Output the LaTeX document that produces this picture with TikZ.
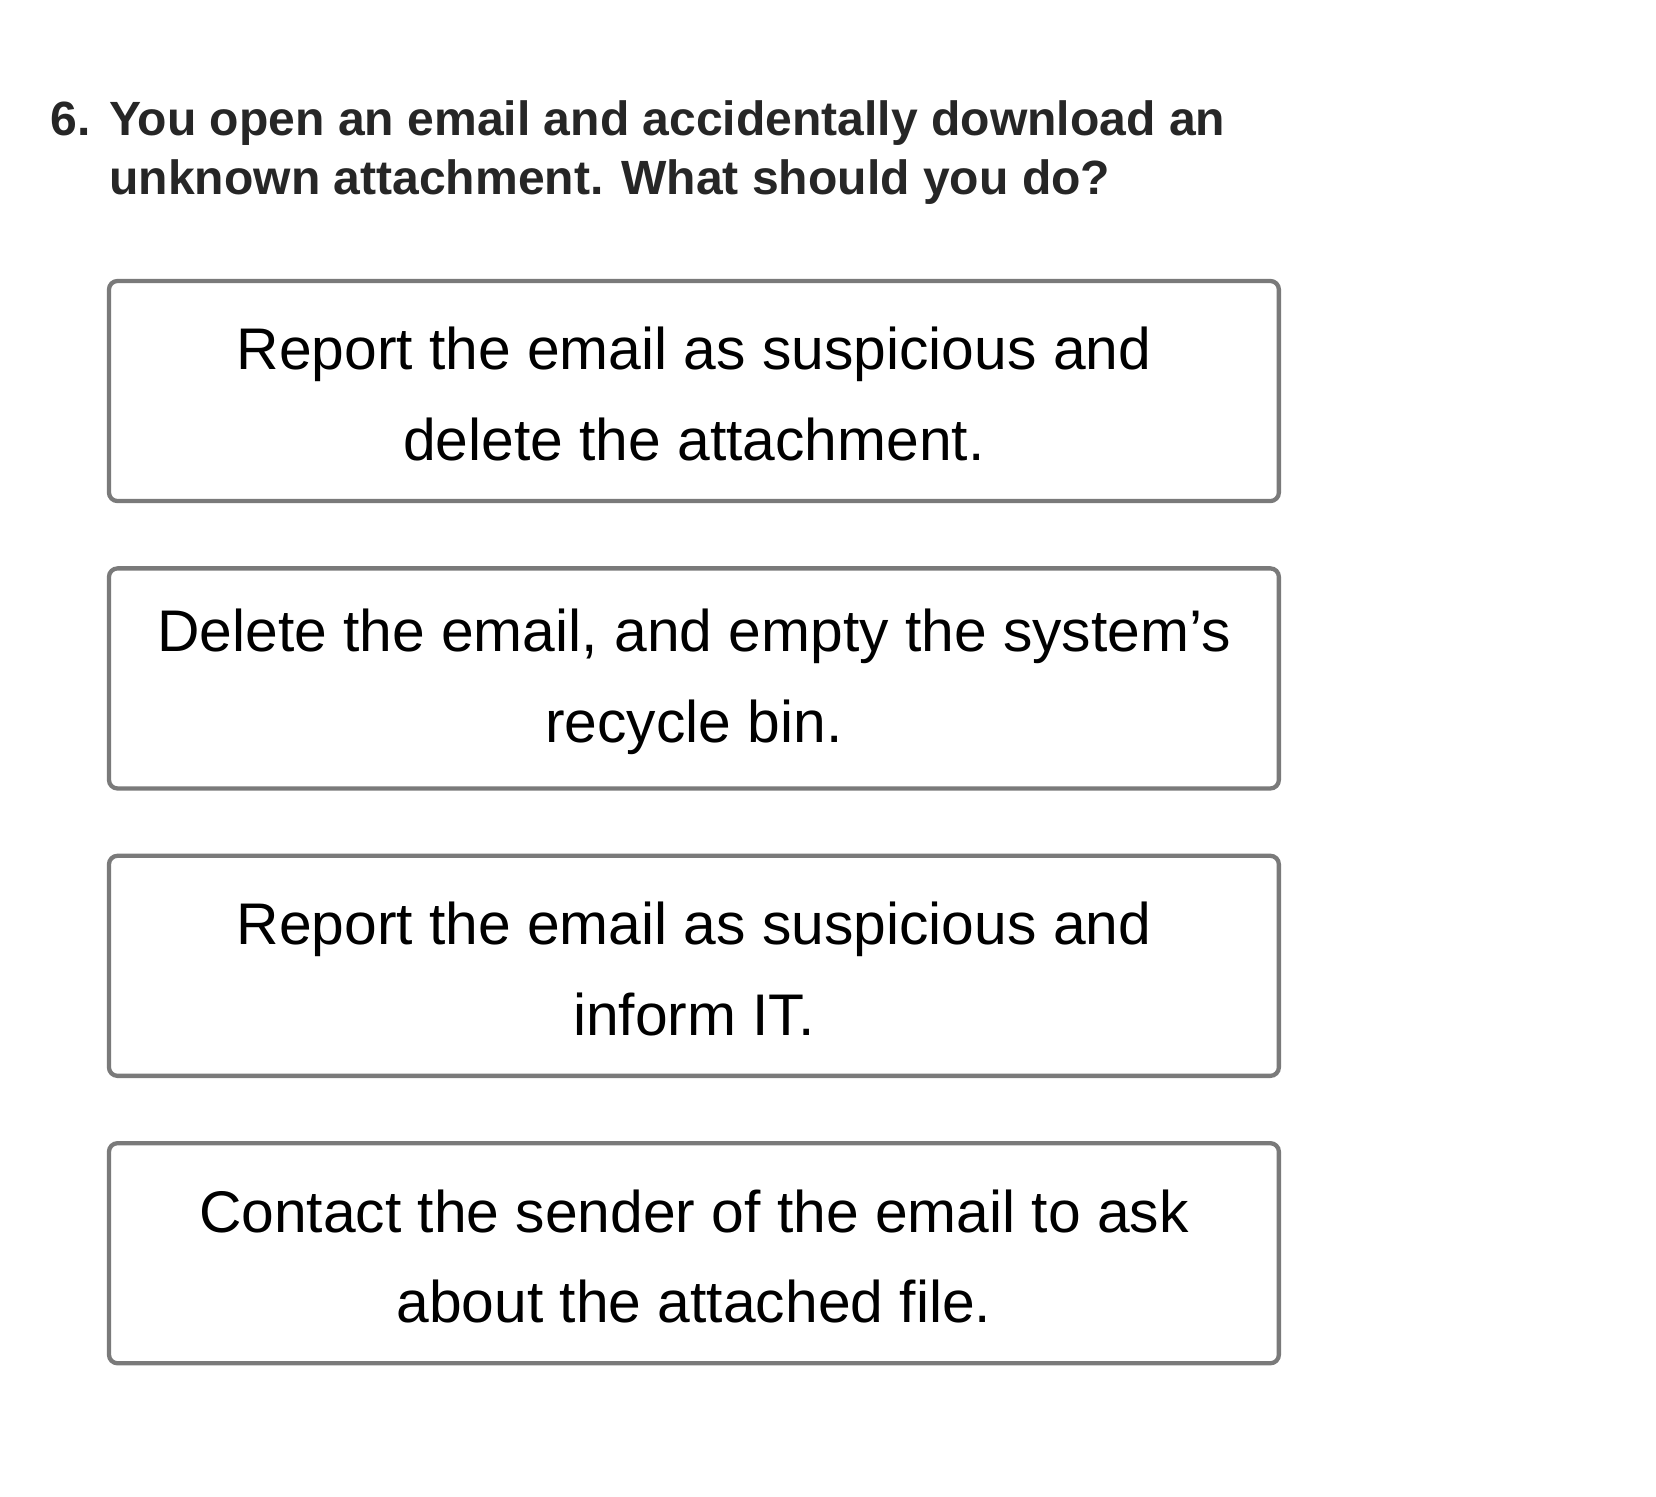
\documentclass[tikz,border=0pt]{standalone}
\usepackage{fontspec}
\setmainfont{Liberation Sans}
\begin{document}
\begin{tikzpicture}[x=0.5pt,y=-0.5pt,
  optbox/.style={draw=black!52,line width=2pt,rounded corners=4pt},
  opttext/.style={font=\fontsize{27.5}{42.5}\selectfont,align=center,inner sep=0pt},
  qtext/.style={font=\fontsize{22.5}{27.5}\selectfont\bfseries,anchor=base west,inner sep=0pt,text=black!85}]
\useasboundingbox (0,0) rectangle (1550,1401);
\node[qtext] (num) at (47,127) {6.};
\node[qtext] (q1) at (102,127) {You open an email and accidentally download an};
\node[qtext] (q2) at (102,182) {unknown attachment. What should you do?};
\foreach \i/\t/\txt in {a/263/{Report the email as suspicious and\\delete the attachment.},
  b/532/{Delete the email, and empty the system’s\\recycle bin.},
  c/801/{Report the email as suspicious and\\inform IT.},
  d/1070/{Contact the sender of the email to ask\\about the attached file.}}{
  \draw[optbox] (102,\t) rectangle (1197,\t+206);
  \node[opttext] (t\i) at (649.5,\t+106) {\txt};
}
\end{tikzpicture}
\end{document}
